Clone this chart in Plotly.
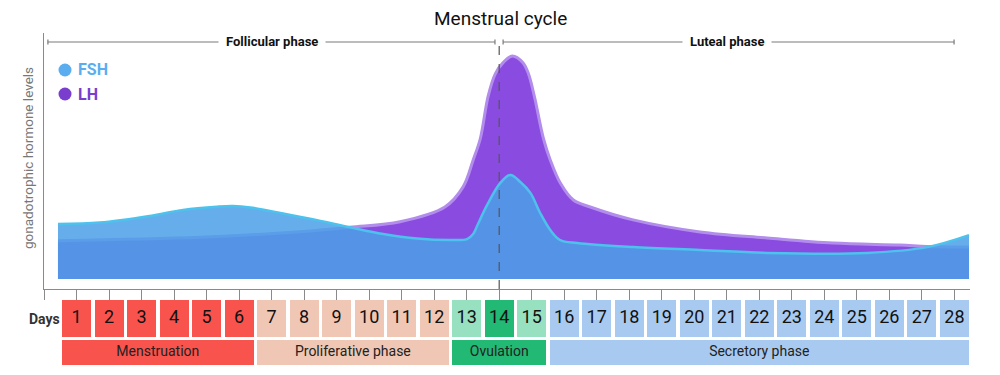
import plotly.graph_objects as go

# ---------------- data ----------------
days = list(range(1, 29))
day_colors = (["#F9534E"] * 6 + ["#F0C7B4"] * 6 + ["#97E0C0", "#21B974", "#97E0C0"]
              + ["#A8CAF0"] * 13)

phase_names = ["Menstruation", "Proliferative phase", "Ovulation", "Secretory phase"]
phase_first = [1, 7, 13, 16]
phase_last = [6, 12, 15, 28]
phase_colors = ["#F9534E", "#F0C7B4", "#21B974", "#A8CAF0"]

fsh_day = [0.43, 1.72, 3.26, 4.28, 5.32, 5.81, 6.34, 7.35, 8.4, 9.41, 10.43, 11.47, 12.49,
           13.01, 13.2, 13.32, 13.63, 14.03, 14.34, 14.65, 14.96, 15.26, 15.57, 15.87,
           16.4, 18.12, 20.18, 22.24, 25.32, 27.16, 28.45]
fsh_level = [24.7, 25.3, 28.3, 31.0, 32.4, 32.7, 32.1, 29.4, 26.4, 23.2, 20.2, 18.2, 17.5,
             17.9, 20.2, 23.8, 33.2, 43.0, 46.6, 43.5, 38.6, 29.6, 22.0, 17.5,
             16.1, 14.3, 13.0, 11.7, 11.7, 14.3, 19.7]

lh_day = [0.43, 4.8, 7.87, 9.41, 10.95, 12.33, 12.89, 13.2, 13.42, 13.66, 13.88, 14.12,
          14.4, 14.73, 14.9, 15.08, 15.36, 15.57, 15.88, 16.28, 16.8, 18.12, 20.18, 22.24,
          24.27, 26.33, 27.16, 28.45]
lh_level = [17.2, 18.7, 21.2, 23.2, 25.7, 32.3, 41.3, 53.4, 63.0, 82.0, 92.0, 97.0,
            100.0, 97.0, 92.0, 82.0, 63.0, 53.4, 43.0, 35.4, 32.3, 26.5, 21.1, 18.4,
            16.1, 15.2, 14.6, 14.3]

ovulation_day = 14

# ---------------- figure ----------------
FONT = "Roboto"
fig = go.Figure()

# LH area (purple)
fig.add_trace(go.Scatter(
    x=lh_day, y=lh_level, mode="lines", fill="tozeroy",
    fillcolor="#8A4CE0", line=dict(color="#B38DEB", width=3, shape="spline", smoothing=1.0),
    hoverinfo="skip", showlegend=False, xaxis="x", yaxis="y"))

# FSH area (semi-transparent blue -> dark blue where overlapping LH)
fig.add_trace(go.Scatter(
    x=fsh_day, y=fsh_level, mode="lines", fill="tozeroy",
    fillcolor="rgba(75,160,231,0.85)", line=dict(color="#4DC2EC", width=2.5, shape="spline", smoothing=1.0),
    hoverinfo="skip", showlegend=False, xaxis="x", yaxis="y"))

# Day boxes
fig.add_trace(go.Bar(
    x=days, y=[37] * len(days), base=38, width=0.89,
    marker=dict(color=day_colors, line=dict(width=0)),
    hoverinfo="skip", showlegend=False, xaxis="x", yaxis="y2"))
fig.add_trace(go.Scatter(
    x=days, y=[56.5] * len(days), mode="text", text=[str(d) for d in days],
    textfont=dict(family=FONT, size=18, color="#111"),
    hoverinfo="skip", showlegend=False, xaxis="x", yaxis="y2"))

# Phase boxes
p_center = [(a + b) / 2 for a, b in zip(phase_first, phase_last)]
p_width = [b - a + 0.89 for a, b in zip(phase_first, phase_last)]
fig.add_trace(go.Bar(
    x=p_center, y=[25] * 4, base=10, width=p_width,
    marker=dict(color=phase_colors, line=dict(width=0)),
    hoverinfo="skip", showlegend=False, xaxis="x", yaxis="y2"))
fig.add_trace(go.Scatter(
    x=p_center, y=[22.5] * 4, mode="text", text=phase_names,
    textfont=dict(family=FONT, size=14, color="#222"),
    hoverinfo="skip", showlegend=False, xaxis="x", yaxis="y2"))

H = 375.0
def py(px):
    return (H - px) / H

fig.update_layout(
    width=1000, height=375, margin=dict(l=0, r=0, t=0, b=0),
    paper_bgcolor="white", plot_bgcolor="rgba(0,0,0,0)",
    barmode="overlay", bargap=0,
    xaxis=dict(domain=[0.044, 0.970], range=[0, 28.48], showgrid=False, zeroline=False,
               showline=True, linecolor="#8a8a8a", linewidth=1.2,
               tickvals=list(range(0, 29)), ticks="outside", ticklen=10,
               tickcolor="#8a8a8a", tickwidth=1.2, showticklabels=False,
               anchor="y", fixedrange=True),
    yaxis=dict(domain=[py(289), py(33)], range=[-4.48, 110.3], showgrid=False,
               zeroline=False, showline=True, linecolor="#8a8a8a", linewidth=1.2,
               showticklabels=False, ticks="", fixedrange=True),
    yaxis2=dict(domain=[0, py(289)], range=[0, 86], showgrid=False, zeroline=False,
                showline=False, showticklabels=False, fixedrange=True),
    font=dict(family=FONT),
)

shapes = []
# ovulation dashed line
shapes.append(dict(type="line", xref="x", yref="paper", x0=ovulation_day, x1=ovulation_day,
                   y0=py(289), y1=py(44), line=dict(color="#555", width=1.2, dash="dash"),
                   layer="above"))
# phase brackets
for x0, x1 in [(0.12, 13.87), (14.12, 27.99)]:
    shapes.append(dict(type="line", xref="x", yref="paper", x0=x0, x1=x1, y0=py(42), y1=py(42),
                       line=dict(color="#7a7a7a", width=1.2)))
    for xe in (x0, x1):
        shapes.append(dict(type="line", xref="x", yref="paper", x0=xe, x1=xe,
                           y0=py(44.5), y1=py(39.5), line=dict(color="#7a7a7a", width=1.2)))
# legend dots
for ypx, col in [(70, "#5AAEEF"), (94, "#7A3ECE")]:
    shapes.append(dict(type="circle", xref="paper", yref="paper", xsizemode="pixel",
                       ysizemode="pixel", xanchor=0.065, yanchor=py(ypx),
                       x0=-6.5, x1=6.5, y0=-6.5, y1=6.5, fillcolor=col, line=dict(width=0)))
fig.update_layout(shapes=shapes)

def A(**kw):
    kw.setdefault("xanchor", "center")
    kw.setdefault("yanchor", "middle")
    kw.setdefault("showarrow", False)
    return kw

ann = []
ann.append(A(text="Menstrual cycle", xref="paper", yref="paper", x=0.5, y=py(18),
             font=dict(family=FONT, size=19, color="#111")))
ann.append(A(text="<b>Follicular phase</b>", xref="x", yref="paper", x=7, y=py(42),
             bgcolor="white", borderpad=7, font=dict(family=FONT, size=13, color="#111")))
ann.append(A(text="<b>Luteal phase</b>", xref="x", yref="paper", x=21, y=py(42),
             bgcolor="white", borderpad=7, font=dict(family=FONT, size=13, color="#111")))
ann.append(A(text="<b>FSH</b>", xref="paper", yref="paper", x=0.0755, y=py(70),
             xanchor="left", font=dict(family=FONT, size=16, color="#5AAEEF")))
ann.append(A(text="<b>LH</b>", xref="paper", yref="paper", x=0.0755, y=py(94),
             xanchor="left", font=dict(family=FONT, size=16, color="#7A3ECE")))
ann.append(A(text="gonadotrophic hormone levels", xref="paper", yref="paper",
             x=0.028, y=py(158), textangle=-90, font=dict(family=FONT, size=13.5, color="#777")))
ann.append(A(text="<b>Days</b>", xref="paper", yref="paper", x=0.044, y=py(319),
             font=dict(family=FONT, size=14, color="#333")))
fig.update_layout(annotations=ann)

fig.write_html("out.html", config={"displayModeBar": False},
               post_script="document.body.style.margin='0';")
